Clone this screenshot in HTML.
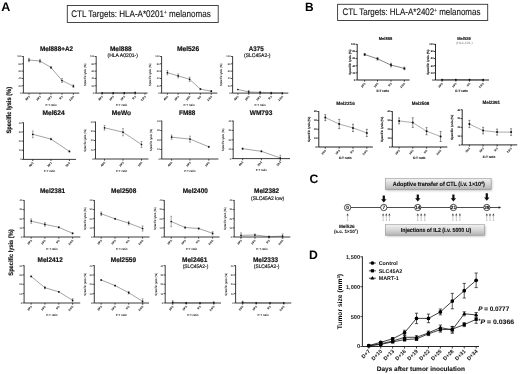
<!DOCTYPE html>
<html lang="en"><head><meta charset="utf-8"><title>Figure</title>
<style>html,body{margin:0;padding:0;background:#fff;}body{width:520px;height:374px;overflow:hidden;}svg{display:block;font-family:'Liberation Sans', sans-serif;}</style></head><body>
<svg width="520" height="374" viewBox="0 0 520 374" text-rendering="geometricPrecision">
<defs><linearGradient id="gb" x1="0" y1="0" x2="0" y2="1"><stop offset="0" stop-color="#f2f2f2"/><stop offset="0.5" stop-color="#d6d6d6"/><stop offset="1" stop-color="#b4b4b4"/></linearGradient><filter id="bl" x="-5%" y="-5%" width="110%" height="110%"><feGaussianBlur stdDeviation="0.28"/></filter><filter id="sh" x="-10%" y="-30%" width="120%" height="180%"><feGaussianBlur stdDeviation="0.8"/></filter></defs>
<rect width="520" height="374" fill="#fff"/>
<g filter="url(#bl)">
<text x="1.2" y="10.8" font-size="12.5" font-weight="bold" text-anchor="start" fill="#000">A</text>
<text x="304.9" y="10.6" font-size="11.9" font-weight="bold" text-anchor="start" fill="#000">B</text>
<text x="309.4" y="183.4" font-size="12.2" font-weight="bold" text-anchor="start" fill="#000">C</text>
<text x="309" y="259" font-size="12.2" font-weight="bold" text-anchor="start" fill="#000">D</text>
<rect x="67.3" y="5.5" width="150.9" height="17" fill="#fff" stroke="#333" stroke-width="0.9"/>
<text x="71.2" y="16.9" font-size="9.5" fill="#111" stroke="#111" stroke-width="0.12" textLength="139.6" lengthAdjust="spacingAndGlyphs">CTL Targets: HLA-A*0201<tspan font-size="5.5" dy="-3.2">+</tspan><tspan dy="3.2"> melanomas</tspan></text>
<rect x="337.6" y="4.3" width="150.1" height="16.2" fill="#fff" stroke="#333" stroke-width="0.9"/>
<text x="342.4" y="15.4" font-size="9.5" fill="#111" stroke="#111" stroke-width="0.12" textLength="138" lengthAdjust="spacingAndGlyphs">CTL Targets: HLA-A*2402<tspan font-size="5.5" dy="-3.2">+</tspan><tspan dy="3.2"> melanomas</tspan></text>
<text transform="translate(10.5 110.2) rotate(-90)" font-size="6.4" font-weight="bold" text-anchor="middle" fill="#111" stroke="#111" stroke-width="0.2" textLength="46.5" lengthAdjust="spacingAndGlyphs">Specific lysis (%)</text>
<text transform="translate(13 252.5) rotate(-90)" font-size="6.4" font-weight="bold" text-anchor="middle" fill="#111" stroke="#111" stroke-width="0.15" textLength="46.3" lengthAdjust="spacingAndGlyphs">Specific lysis (%)</text>
<g>
<path d="M23.4 56.2V93.1H79.3" fill="none" stroke="#1a1a1a" stroke-width="0.85"/>
<text x="21.5" y="94" font-size="2.6" font-weight="normal" text-anchor="end" fill="#444" stroke="#444" stroke-width="0.07">0</text>
<text x="21.5" y="86.68" font-size="2.6" font-weight="normal" text-anchor="end" fill="#444" stroke="#444" stroke-width="0.07">20</text>
<text x="21.5" y="79.36" font-size="2.6" font-weight="normal" text-anchor="end" fill="#444" stroke="#444" stroke-width="0.07">40</text>
<text x="21.5" y="72.04" font-size="2.6" font-weight="normal" text-anchor="end" fill="#444" stroke="#444" stroke-width="0.07">60</text>
<text x="21.5" y="64.72" font-size="2.6" font-weight="normal" text-anchor="end" fill="#444" stroke="#444" stroke-width="0.07">80</text>
<text x="21.5" y="57.4" font-size="2.6" font-weight="normal" text-anchor="end" fill="#444" stroke="#444" stroke-width="0.07">100</text>
<path d="M23.4 93.1h-1.6M23.4 85.78h-1.6M23.4 78.46h-1.6M23.4 71.14h-1.6M23.4 63.82h-1.6M23.4 56.5h-1.6" stroke="#1a1a1a" stroke-width="0.77"/>
<text transform="translate(29.9 96.6) rotate(-50)" font-size="2.7" font-weight="bold" text-anchor="end" fill="#111" stroke="#111" stroke-width="0.08">40:1</text>
<text transform="translate(40.9 96.6) rotate(-50)" font-size="2.7" font-weight="bold" text-anchor="end" fill="#111" stroke="#111" stroke-width="0.08">20:1</text>
<text transform="translate(51.9 96.6) rotate(-50)" font-size="2.7" font-weight="bold" text-anchor="end" fill="#111" stroke="#111" stroke-width="0.08">10:1</text>
<text transform="translate(62.9 96.6) rotate(-50)" font-size="2.7" font-weight="bold" text-anchor="end" fill="#111" stroke="#111" stroke-width="0.08">5:1</text>
<text transform="translate(74.3 96.6) rotate(-50)" font-size="2.7" font-weight="bold" text-anchor="end" fill="#111" stroke="#111" stroke-width="0.08">2.5:1</text>
<path d="M29 93.1v1.6M40 93.1v1.6M51 93.1v1.6M62 93.1v1.6M73.4 93.1v1.6" stroke="#1a1a1a" stroke-width="0.77"/>
<text x="51.05" y="105.6" font-size="3" font-weight="normal" text-anchor="middle" fill="#222" stroke="#222" stroke-width="0.07">E:T ratio</text>
<text x="56.5" y="50.6" font-size="6.7" font-weight="bold" text-anchor="middle" fill="#111" textLength="33" lengthAdjust="spacingAndGlyphs" stroke="#111" stroke-width="0.18">Mel888+A2</text>
<polyline points="29,60 40,61 51,67.5 62,80.5 73.4,86.2" fill="none" stroke="#333" stroke-width="0.45"/>
<path d="M29 58.4V61.6M28.1 58.4h1.8M28.1 61.6h1.8M40 59.4V62.6M39.1 59.4h1.8M39.1 62.6h1.8M51 66.5V68.5M50.1 66.5h1.8M50.1 68.5h1.8M62 78.5V82.5M61.1 78.5h1.8M61.1 82.5h1.8M73.4 84.9V87.5M72.5 84.9h1.8M72.5 87.5h1.8" stroke="#444" stroke-width="0.45" fill="none"/>
<circle cx="29" cy="60" r="0.85" fill="#111"/>
<circle cx="40" cy="61" r="0.85" fill="#111"/>
<circle cx="51" cy="67.5" r="0.85" fill="#111"/>
<circle cx="62" cy="80.5" r="0.85" fill="#111"/>
<circle cx="73.4" cy="86.2" r="0.85" fill="#111"/>
</g>
<g>
<path d="M96.2 56.2V93.1H147.6" fill="none" stroke="#1a1a1a" stroke-width="0.85"/>
<text x="94.3" y="94" font-size="2.6" font-weight="normal" text-anchor="end" fill="#444" stroke="#444" stroke-width="0.07">0</text>
<text x="94.3" y="86.68" font-size="2.6" font-weight="normal" text-anchor="end" fill="#444" stroke="#444" stroke-width="0.07">20</text>
<text x="94.3" y="79.36" font-size="2.6" font-weight="normal" text-anchor="end" fill="#444" stroke="#444" stroke-width="0.07">40</text>
<text x="94.3" y="72.04" font-size="2.6" font-weight="normal" text-anchor="end" fill="#444" stroke="#444" stroke-width="0.07">60</text>
<text x="94.3" y="64.72" font-size="2.6" font-weight="normal" text-anchor="end" fill="#444" stroke="#444" stroke-width="0.07">80</text>
<text x="94.3" y="57.4" font-size="2.6" font-weight="normal" text-anchor="end" fill="#444" stroke="#444" stroke-width="0.07">100</text>
<path d="M96.2 93.1h-1.6M96.2 85.78h-1.6M96.2 78.46h-1.6M96.2 71.14h-1.6M96.2 63.82h-1.6M96.2 56.5h-1.6" stroke="#1a1a1a" stroke-width="0.77"/>
<text transform="translate(103 96.6) rotate(-50)" font-size="2.7" font-weight="bold" text-anchor="end" fill="#111" stroke="#111" stroke-width="0.08">40:1</text>
<text transform="translate(114 96.6) rotate(-50)" font-size="2.7" font-weight="bold" text-anchor="end" fill="#111" stroke="#111" stroke-width="0.08">20:1</text>
<text transform="translate(125.1 96.6) rotate(-50)" font-size="2.7" font-weight="bold" text-anchor="end" fill="#111" stroke="#111" stroke-width="0.08">10:1</text>
<text transform="translate(136.1 96.6) rotate(-50)" font-size="2.7" font-weight="bold" text-anchor="end" fill="#111" stroke="#111" stroke-width="0.08">5:1</text>
<text transform="translate(145.9 96.6) rotate(-50)" font-size="2.7" font-weight="bold" text-anchor="end" fill="#111" stroke="#111" stroke-width="0.08">2.5:1</text>
<path d="M102.1 93.1v1.6M113.1 93.1v1.6M124.2 93.1v1.6M135.2 93.1v1.6M145 93.1v1.6" stroke="#1a1a1a" stroke-width="0.77"/>
<text x="121.6" y="105.6" font-size="3" font-weight="normal" text-anchor="middle" fill="#222" stroke="#222" stroke-width="0.07">E:T ratio</text>
<text transform="translate(85.8 74.8) rotate(-90)" font-size="3" font-weight="normal" text-anchor="middle" fill="#222" stroke="#222" stroke-width="0.07">Specific lysis (%)</text>
<text x="120.8" y="50.6" font-size="6.7" font-weight="bold" text-anchor="middle" fill="#111" textLength="21.8" lengthAdjust="spacingAndGlyphs" stroke="#111" stroke-width="0.18">Mel888</text>
<text x="122.7" y="57.2" font-size="5.2" font-weight="normal" text-anchor="middle" fill="#222" textLength="30.5" lengthAdjust="spacingAndGlyphs" stroke="#222" stroke-width="0.18">(HLA A0201-)</text>
<polyline points="102.1,92.9 113.1,92.9 124.2,92.9 135.2,92.6" fill="none" stroke="#333" stroke-width="0.45"/>
<path d="M135.2 92.1V93.1M134.3 92.1h1.8M134.3 93.1h1.8" stroke="#444" stroke-width="0.45" fill="none"/>
<circle cx="102.1" cy="92.9" r="0.85" fill="#111"/>
<circle cx="113.1" cy="92.9" r="0.85" fill="#111"/>
<circle cx="124.2" cy="92.9" r="0.85" fill="#111"/>
<circle cx="135.2" cy="92.6" r="0.85" fill="#111"/>
</g>
<g>
<path d="M161.6 56.2V93.1H217.2" fill="none" stroke="#1a1a1a" stroke-width="0.85"/>
<text x="159.7" y="94" font-size="2.6" font-weight="normal" text-anchor="end" fill="#444" stroke="#444" stroke-width="0.07">0</text>
<text x="159.7" y="86.68" font-size="2.6" font-weight="normal" text-anchor="end" fill="#444" stroke="#444" stroke-width="0.07">20</text>
<text x="159.7" y="79.36" font-size="2.6" font-weight="normal" text-anchor="end" fill="#444" stroke="#444" stroke-width="0.07">40</text>
<text x="159.7" y="72.04" font-size="2.6" font-weight="normal" text-anchor="end" fill="#444" stroke="#444" stroke-width="0.07">60</text>
<text x="159.7" y="64.72" font-size="2.6" font-weight="normal" text-anchor="end" fill="#444" stroke="#444" stroke-width="0.07">80</text>
<text x="159.7" y="57.4" font-size="2.6" font-weight="normal" text-anchor="end" fill="#444" stroke="#444" stroke-width="0.07">100</text>
<path d="M161.6 93.1h-1.6M161.6 85.78h-1.6M161.6 78.46h-1.6M161.6 71.14h-1.6M161.6 63.82h-1.6M161.6 56.5h-1.6" stroke="#1a1a1a" stroke-width="0.77"/>
<text transform="translate(168.3 96.6) rotate(-50)" font-size="2.7" font-weight="bold" text-anchor="end" fill="#111" stroke="#111" stroke-width="0.08">40:1</text>
<text transform="translate(179.1 96.6) rotate(-50)" font-size="2.7" font-weight="bold" text-anchor="end" fill="#111" stroke="#111" stroke-width="0.08">20:1</text>
<text transform="translate(190.5 96.6) rotate(-50)" font-size="2.7" font-weight="bold" text-anchor="end" fill="#111" stroke="#111" stroke-width="0.08">10:1</text>
<text transform="translate(201.3 96.6) rotate(-50)" font-size="2.7" font-weight="bold" text-anchor="end" fill="#111" stroke="#111" stroke-width="0.08">5:1</text>
<text transform="translate(212.2 96.6) rotate(-50)" font-size="2.7" font-weight="bold" text-anchor="end" fill="#111" stroke="#111" stroke-width="0.08">2.5:1</text>
<path d="M167.4 93.1v1.6M178.2 93.1v1.6M189.6 93.1v1.6M200.4 93.1v1.6M211.3 93.1v1.6" stroke="#1a1a1a" stroke-width="0.77"/>
<text x="189.1" y="105.6" font-size="3" font-weight="normal" text-anchor="middle" fill="#222" stroke="#222" stroke-width="0.07">E:T ratio</text>
<text transform="translate(151.4 74.8) rotate(-90)" font-size="3" font-weight="normal" text-anchor="middle" fill="#222" stroke="#222" stroke-width="0.07">Specific lysis (%)</text>
<text x="188" y="50.6" font-size="6.7" font-weight="bold" text-anchor="middle" fill="#111" textLength="22.2" lengthAdjust="spacingAndGlyphs" stroke="#111" stroke-width="0.18">Mel526</text>
<polyline points="167.4,72.7 178.2,75.9 189.6,79.3 200.4,89.1 211.3,91.2" fill="none" stroke="#333" stroke-width="0.45"/>
<path d="M167.4 70.5V74.9M166.5 70.5h1.8M166.5 74.9h1.8M178.2 73.9V77.9M177.3 73.9h1.8M177.3 77.9h1.8M189.6 77.1V81.5M188.7 77.1h1.8M188.7 81.5h1.8M200.4 88.5V89.7M199.5 88.5h1.8M199.5 89.7h1.8M211.3 90.5V91.9M210.4 90.5h1.8M210.4 91.9h1.8" stroke="#444" stroke-width="0.45" fill="none"/>
<circle cx="167.4" cy="72.7" r="0.85" fill="#111"/>
<circle cx="178.2" cy="75.9" r="0.85" fill="#111"/>
<circle cx="189.6" cy="79.3" r="0.85" fill="#111"/>
<circle cx="200.4" cy="89.1" r="0.85" fill="#111"/>
<circle cx="211.3" cy="91.2" r="0.85" fill="#111"/>
</g>
<g>
<path d="M232.6 56.2V93.1H288.3" fill="none" stroke="#1a1a1a" stroke-width="0.85"/>
<text x="230.7" y="94" font-size="2.6" font-weight="normal" text-anchor="end" fill="#444" stroke="#444" stroke-width="0.07">0</text>
<text x="230.7" y="86.68" font-size="2.6" font-weight="normal" text-anchor="end" fill="#444" stroke="#444" stroke-width="0.07">20</text>
<text x="230.7" y="79.36" font-size="2.6" font-weight="normal" text-anchor="end" fill="#444" stroke="#444" stroke-width="0.07">40</text>
<text x="230.7" y="72.04" font-size="2.6" font-weight="normal" text-anchor="end" fill="#444" stroke="#444" stroke-width="0.07">60</text>
<text x="230.7" y="64.72" font-size="2.6" font-weight="normal" text-anchor="end" fill="#444" stroke="#444" stroke-width="0.07">80</text>
<text x="230.7" y="57.4" font-size="2.6" font-weight="normal" text-anchor="end" fill="#444" stroke="#444" stroke-width="0.07">100</text>
<path d="M232.6 93.1h-1.6M232.6 85.78h-1.6M232.6 78.46h-1.6M232.6 71.14h-1.6M232.6 63.82h-1.6M232.6 56.5h-1.6" stroke="#1a1a1a" stroke-width="0.77"/>
<text transform="translate(238.8 96.6) rotate(-50)" font-size="2.7" font-weight="bold" text-anchor="end" fill="#111" stroke="#111" stroke-width="0.08">40:1</text>
<text transform="translate(249.6 96.6) rotate(-50)" font-size="2.7" font-weight="bold" text-anchor="end" fill="#111" stroke="#111" stroke-width="0.08">20:1</text>
<text transform="translate(261 96.6) rotate(-50)" font-size="2.7" font-weight="bold" text-anchor="end" fill="#111" stroke="#111" stroke-width="0.08">10:1</text>
<text transform="translate(272.1 96.6) rotate(-50)" font-size="2.7" font-weight="bold" text-anchor="end" fill="#111" stroke="#111" stroke-width="0.08">5:1</text>
<text transform="translate(283.2 96.6) rotate(-50)" font-size="2.7" font-weight="bold" text-anchor="end" fill="#111" stroke="#111" stroke-width="0.08">2.5:1</text>
<path d="M237.9 93.1v1.6M248.7 93.1v1.6M260.1 93.1v1.6M271.2 93.1v1.6M282.3 93.1v1.6" stroke="#1a1a1a" stroke-width="0.77"/>
<text x="260.15" y="105.6" font-size="3" font-weight="normal" text-anchor="middle" fill="#222" stroke="#222" stroke-width="0.07">E:T ratio</text>
<text transform="translate(222.4 74.8) rotate(-90)" font-size="3" font-weight="normal" text-anchor="middle" fill="#222" stroke="#222" stroke-width="0.07">Specific lysis (%)</text>
<text x="256.2" y="50.6" font-size="6.7" font-weight="bold" text-anchor="middle" fill="#111" textLength="14.8" lengthAdjust="spacingAndGlyphs" stroke="#111" stroke-width="0.18">A375</text>
<text x="257.3" y="56.7" font-size="5.2" font-weight="normal" text-anchor="middle" fill="#222" textLength="26.5" lengthAdjust="spacingAndGlyphs" stroke="#222" stroke-width="0.18">(SLC45A2-)</text>
<polyline points="237.9,89.5 248.7,91.9 260.1,92.4 271.2,92.9 282.3,93" fill="none" stroke="#333" stroke-width="0.45"/>
<path d="M248.7 90.4V93.4M247.8 90.4h1.8M247.8 93.4h1.8M260.1 91.4V93.4M259.2 91.4h1.8M259.2 93.4h1.8M271.2 92.3V93.5M270.3 92.3h1.8M270.3 93.5h1.8" stroke="#444" stroke-width="0.45" fill="none"/>
<circle cx="237.9" cy="89.5" r="0.85" fill="#111"/>
<circle cx="248.7" cy="91.9" r="0.85" fill="#111"/>
<circle cx="260.1" cy="92.4" r="0.85" fill="#111"/>
<circle cx="271.2" cy="92.9" r="0.85" fill="#111"/>
<circle cx="282.3" cy="93" r="0.85" fill="#111"/>
</g>
<g>
<path d="M23.5 122.4V159.4H76" fill="none" stroke="#1a1a1a" stroke-width="0.85"/>
<text x="21.6" y="160.3" font-size="2.6" font-weight="normal" text-anchor="end" fill="#444" stroke="#444" stroke-width="0.07">0</text>
<text x="21.6" y="151.12" font-size="2.6" font-weight="normal" text-anchor="end" fill="#444" stroke="#444" stroke-width="0.07">10</text>
<text x="21.6" y="141.95" font-size="2.6" font-weight="normal" text-anchor="end" fill="#444" stroke="#444" stroke-width="0.07">20</text>
<text x="21.6" y="132.78" font-size="2.6" font-weight="normal" text-anchor="end" fill="#444" stroke="#444" stroke-width="0.07">30</text>
<text x="21.6" y="123.6" font-size="2.6" font-weight="normal" text-anchor="end" fill="#444" stroke="#444" stroke-width="0.07">40</text>
<path d="M23.5 159.4h-1.6M23.5 150.22h-1.6M23.5 141.05h-1.6M23.5 131.88h-1.6M23.5 122.7h-1.6" stroke="#1a1a1a" stroke-width="0.77"/>
<text transform="translate(33.7 162.9) rotate(-50)" font-size="2.7" font-weight="bold" text-anchor="end" fill="#111" stroke="#111" stroke-width="0.08">40:1</text>
<text transform="translate(51.9 162.9) rotate(-50)" font-size="2.7" font-weight="bold" text-anchor="end" fill="#111" stroke="#111" stroke-width="0.08">20:1</text>
<text transform="translate(70.3 162.9) rotate(-50)" font-size="2.7" font-weight="bold" text-anchor="end" fill="#111" stroke="#111" stroke-width="0.08">10:1</text>
<path d="M32.8 159.4v1.6M51 159.4v1.6M69.4 159.4v1.6" stroke="#1a1a1a" stroke-width="0.77"/>
<text x="49.45" y="171.9" font-size="3" font-weight="normal" text-anchor="middle" fill="#222" stroke="#222" stroke-width="0.07">E:T ratio</text>
<text x="53.5" y="114.8" font-size="6.7" font-weight="bold" text-anchor="middle" fill="#111" textLength="22.2" lengthAdjust="spacingAndGlyphs" stroke="#111" stroke-width="0.18">Mel624</text>
<polyline points="32.8,134.3 51,139.1 69.4,151.4" fill="none" stroke="#333" stroke-width="0.45"/>
<path d="M32.8 131V137.6M31.9 131h1.8M31.9 137.6h1.8M51 138.3V139.9M50.1 138.3h1.8M50.1 139.9h1.8M69.4 150.9V151.9M68.5 150.9h1.8M68.5 151.9h1.8" stroke="#444" stroke-width="0.45" fill="none"/>
<circle cx="32.8" cy="134.3" r="0.85" fill="#111"/>
<circle cx="51" cy="139.1" r="0.85" fill="#111"/>
<circle cx="69.4" cy="151.4" r="0.85" fill="#111"/>
</g>
<g>
<path d="M95.5 121.7V159H148.4" fill="none" stroke="#1a1a1a" stroke-width="0.85"/>
<text x="93.6" y="159.9" font-size="2.6" font-weight="normal" text-anchor="end" fill="#444" stroke="#444" stroke-width="0.07">0</text>
<text x="93.6" y="150.65" font-size="2.6" font-weight="normal" text-anchor="end" fill="#444" stroke="#444" stroke-width="0.07">10</text>
<text x="93.6" y="141.4" font-size="2.6" font-weight="normal" text-anchor="end" fill="#444" stroke="#444" stroke-width="0.07">20</text>
<text x="93.6" y="132.15" font-size="2.6" font-weight="normal" text-anchor="end" fill="#444" stroke="#444" stroke-width="0.07">30</text>
<text x="93.6" y="122.9" font-size="2.6" font-weight="normal" text-anchor="end" fill="#444" stroke="#444" stroke-width="0.07">40</text>
<path d="M95.5 159h-1.6M95.5 149.75h-1.6M95.5 140.5h-1.6M95.5 131.25h-1.6M95.5 122h-1.6" stroke="#1a1a1a" stroke-width="0.77"/>
<text transform="translate(105.4 162.5) rotate(-50)" font-size="2.7" font-weight="bold" text-anchor="end" fill="#111" stroke="#111" stroke-width="0.08">40:1</text>
<text transform="translate(123.9 162.5) rotate(-50)" font-size="2.7" font-weight="bold" text-anchor="end" fill="#111" stroke="#111" stroke-width="0.08">20:1</text>
<text transform="translate(142.4 162.5) rotate(-50)" font-size="2.7" font-weight="bold" text-anchor="end" fill="#111" stroke="#111" stroke-width="0.08">10:1</text>
<path d="M104.5 159v1.6M123 159v1.6M141.5 159v1.6" stroke="#1a1a1a" stroke-width="0.77"/>
<text x="121.65" y="171.5" font-size="3" font-weight="normal" text-anchor="middle" fill="#222" stroke="#222" stroke-width="0.07">E:T ratio</text>
<text transform="translate(86.1 140.5) rotate(-90)" font-size="3" font-weight="normal" text-anchor="middle" fill="#222" stroke="#222" stroke-width="0.07">Specific lysis (%)</text>
<text x="121.4" y="114.8" font-size="6.7" font-weight="bold" text-anchor="middle" fill="#111" textLength="19.2" lengthAdjust="spacingAndGlyphs" stroke="#111" stroke-width="0.18">MeWo</text>
<polyline points="104.5,127.8 123,132.2 141.5,144.5" fill="none" stroke="#333" stroke-width="0.45"/>
<path d="M104.5 125.4V130.2M103.6 125.4h1.8M103.6 130.2h1.8M123 128.6V135.8M122.1 128.6h1.8M122.1 135.8h1.8M141.5 141.5V147.5M140.6 141.5h1.8M140.6 147.5h1.8" stroke="#444" stroke-width="0.45" fill="none"/>
<circle cx="104.5" cy="127.8" r="0.85" fill="#111"/>
<circle cx="123" cy="132.2" r="0.85" fill="#111"/>
<circle cx="141.5" cy="144.5" r="0.85" fill="#111"/>
</g>
<g>
<path d="M161.8 120.7V159H218.4" fill="none" stroke="#1a1a1a" stroke-width="0.85"/>
<text x="159.9" y="159.9" font-size="2.6" font-weight="normal" text-anchor="end" fill="#444" stroke="#444" stroke-width="0.07">0</text>
<text x="159.9" y="150.4" font-size="2.6" font-weight="normal" text-anchor="end" fill="#444" stroke="#444" stroke-width="0.07">10</text>
<text x="159.9" y="140.9" font-size="2.6" font-weight="normal" text-anchor="end" fill="#444" stroke="#444" stroke-width="0.07">20</text>
<text x="159.9" y="131.4" font-size="2.6" font-weight="normal" text-anchor="end" fill="#444" stroke="#444" stroke-width="0.07">30</text>
<text x="159.9" y="121.9" font-size="2.6" font-weight="normal" text-anchor="end" fill="#444" stroke="#444" stroke-width="0.07">40</text>
<path d="M161.8 159h-1.6M161.8 149.5h-1.6M161.8 140h-1.6M161.8 130.5h-1.6M161.8 121h-1.6" stroke="#1a1a1a" stroke-width="0.77"/>
<text transform="translate(172.5 162.5) rotate(-50)" font-size="2.7" font-weight="bold" text-anchor="end" fill="#111" stroke="#111" stroke-width="0.08">40:1</text>
<text transform="translate(190.9 162.5) rotate(-50)" font-size="2.7" font-weight="bold" text-anchor="end" fill="#111" stroke="#111" stroke-width="0.08">20:1</text>
<text transform="translate(209.7 162.5) rotate(-50)" font-size="2.7" font-weight="bold" text-anchor="end" fill="#111" stroke="#111" stroke-width="0.08">10:1</text>
<path d="M171.6 159v1.6M190 159v1.6M208.8 159v1.6" stroke="#1a1a1a" stroke-width="0.77"/>
<text x="189.8" y="171.5" font-size="3" font-weight="normal" text-anchor="middle" fill="#222" stroke="#222" stroke-width="0.07">E:T ratio</text>
<text transform="translate(152.4 140) rotate(-90)" font-size="3" font-weight="normal" text-anchor="middle" fill="#222" stroke="#222" stroke-width="0.07">Specific lysis (%)</text>
<text x="187.2" y="114.8" font-size="6.7" font-weight="bold" text-anchor="middle" fill="#111" textLength="16.3" lengthAdjust="spacingAndGlyphs" stroke="#111" stroke-width="0.18">FM88</text>
<polyline points="171.6,137.2 190,139.1 208.8,146.8" fill="none" stroke="#333" stroke-width="0.45"/>
<path d="M171.6 135V139.4M170.7 135h1.8M170.7 139.4h1.8M190 136.1V142.1M189.1 136.1h1.8M189.1 142.1h1.8M208.8 146.3V147.3M207.9 146.3h1.8M207.9 147.3h1.8" stroke="#444" stroke-width="0.45" fill="none"/>
<circle cx="171.6" cy="137.2" r="0.85" fill="#111"/>
<circle cx="190" cy="139.1" r="0.85" fill="#111"/>
<circle cx="208.8" cy="146.8" r="0.85" fill="#111"/>
</g>
<g>
<path d="M233.2 120.7V158.6H290" fill="none" stroke="#1a1a1a" stroke-width="0.85"/>
<text x="231.3" y="159.5" font-size="2.6" font-weight="normal" text-anchor="end" fill="#444" stroke="#444" stroke-width="0.07">0</text>
<text x="231.3" y="150.1" font-size="2.6" font-weight="normal" text-anchor="end" fill="#444" stroke="#444" stroke-width="0.07">10</text>
<text x="231.3" y="140.7" font-size="2.6" font-weight="normal" text-anchor="end" fill="#444" stroke="#444" stroke-width="0.07">20</text>
<text x="231.3" y="131.3" font-size="2.6" font-weight="normal" text-anchor="end" fill="#444" stroke="#444" stroke-width="0.07">30</text>
<text x="231.3" y="121.9" font-size="2.6" font-weight="normal" text-anchor="end" fill="#444" stroke="#444" stroke-width="0.07">40</text>
<path d="M233.2 158.6h-1.6M233.2 149.2h-1.6M233.2 139.8h-1.6M233.2 130.4h-1.6M233.2 121h-1.6" stroke="#1a1a1a" stroke-width="0.77"/>
<text transform="translate(243.5 162.1) rotate(-50)" font-size="2.7" font-weight="bold" text-anchor="end" fill="#111" stroke="#111" stroke-width="0.08">40:1</text>
<text transform="translate(262.3 162.1) rotate(-50)" font-size="2.7" font-weight="bold" text-anchor="end" fill="#111" stroke="#111" stroke-width="0.08">20:1</text>
<text transform="translate(281.2 162.1) rotate(-50)" font-size="2.7" font-weight="bold" text-anchor="end" fill="#111" stroke="#111" stroke-width="0.08">10:1</text>
<path d="M242.6 158.6v1.6M261.4 158.6v1.6M280.3 158.6v1.6" stroke="#1a1a1a" stroke-width="0.77"/>
<text x="261.3" y="171.1" font-size="3" font-weight="normal" text-anchor="middle" fill="#222" stroke="#222" stroke-width="0.07">E:T ratio</text>
<text transform="translate(223.8 139.8) rotate(-90)" font-size="3" font-weight="normal" text-anchor="middle" fill="#222" stroke="#222" stroke-width="0.07">Specific lysis (%)</text>
<text x="261" y="114.8" font-size="6.7" font-weight="bold" text-anchor="middle" fill="#111" textLength="22.6" lengthAdjust="spacingAndGlyphs" stroke="#111" stroke-width="0.18">WM793</text>
<polyline points="242.6,148.7 261.4,151.3 280.3,158" fill="none" stroke="#333" stroke-width="0.45"/>
<path d="M242.6 148.2V149.2M241.7 148.2h1.8M241.7 149.2h1.8M261.4 150.8V151.8M260.5 150.8h1.8M260.5 151.8h1.8M280.3 155.2V160.8M279.4 155.2h1.8M279.4 160.8h1.8" stroke="#444" stroke-width="0.45" fill="none"/>
<circle cx="242.6" cy="148.7" r="0.85" fill="#111"/>
<circle cx="261.4" cy="151.3" r="0.85" fill="#111"/>
<circle cx="280.3" cy="158" r="0.85" fill="#111"/>
</g>
<g>
<path d="M24.2 200.1V237H80.3" fill="none" stroke="#1a1a1a" stroke-width="0.85"/>
<text x="22.3" y="237.9" font-size="2.6" font-weight="normal" text-anchor="end" fill="#444" stroke="#444" stroke-width="0.07">0</text>
<text x="22.3" y="228.75" font-size="2.6" font-weight="normal" text-anchor="end" fill="#444" stroke="#444" stroke-width="0.07">10</text>
<text x="22.3" y="219.6" font-size="2.6" font-weight="normal" text-anchor="end" fill="#444" stroke="#444" stroke-width="0.07">20</text>
<text x="22.3" y="210.45" font-size="2.6" font-weight="normal" text-anchor="end" fill="#444" stroke="#444" stroke-width="0.07">30</text>
<text x="22.3" y="201.3" font-size="2.6" font-weight="normal" text-anchor="end" fill="#444" stroke="#444" stroke-width="0.07">40</text>
<path d="M24.2 237h-1.6M24.2 227.85h-1.6M24.2 218.7h-1.6M24.2 209.55h-1.6M24.2 200.4h-1.6" stroke="#1a1a1a" stroke-width="0.77"/>
<text transform="translate(32.1 240.5) rotate(-50)" font-size="2.7" font-weight="bold" text-anchor="end" fill="#111" stroke="#111" stroke-width="0.08">20:1</text>
<text transform="translate(45.8 240.5) rotate(-50)" font-size="2.7" font-weight="bold" text-anchor="end" fill="#111" stroke="#111" stroke-width="0.08">10:1</text>
<text transform="translate(59.7 240.5) rotate(-50)" font-size="2.7" font-weight="bold" text-anchor="end" fill="#111" stroke="#111" stroke-width="0.08">5:1</text>
<text transform="translate(73.5 240.5) rotate(-50)" font-size="2.7" font-weight="bold" text-anchor="end" fill="#111" stroke="#111" stroke-width="0.08">2.5:1</text>
<path d="M31.2 237v1.6M44.9 237v1.6M58.8 237v1.6M72.6 237v1.6" stroke="#1a1a1a" stroke-width="0.77"/>
<text x="51.95" y="249.5" font-size="3" font-weight="normal" text-anchor="middle" fill="#222" stroke="#222" stroke-width="0.07">E:T ratio</text>
<text x="52.5" y="193.1" font-size="6.7" font-weight="bold" text-anchor="middle" fill="#111" textLength="25.2" lengthAdjust="spacingAndGlyphs" stroke="#111" stroke-width="0.18">Mel2381</text>
<polyline points="31.2,221.1 44.9,224.4 58.8,227.3 72.6,233.3" fill="none" stroke="#333" stroke-width="0.45"/>
<path d="M31.2 218.9V223.3M30.3 218.9h1.8M30.3 223.3h1.8M44.9 222.6V226.2M44 222.6h1.8M44 226.2h1.8M58.8 226.7V227.9M57.9 226.7h1.8M57.9 227.9h1.8M72.6 232.7V233.9M71.7 232.7h1.8M71.7 233.9h1.8" stroke="#444" stroke-width="0.45" fill="none"/>
<circle cx="31.2" cy="221.1" r="0.85" fill="#111"/>
<circle cx="44.9" cy="224.4" r="0.85" fill="#111"/>
<circle cx="58.8" cy="227.3" r="0.85" fill="#111"/>
<circle cx="72.6" cy="233.3" r="0.85" fill="#111"/>
</g>
<g>
<path d="M94.4 200.1V237H149.6" fill="none" stroke="#1a1a1a" stroke-width="0.85"/>
<text x="92.5" y="237.9" font-size="2.6" font-weight="normal" text-anchor="end" fill="#444" stroke="#444" stroke-width="0.07">0</text>
<text x="92.5" y="228.75" font-size="2.6" font-weight="normal" text-anchor="end" fill="#444" stroke="#444" stroke-width="0.07">10</text>
<text x="92.5" y="219.6" font-size="2.6" font-weight="normal" text-anchor="end" fill="#444" stroke="#444" stroke-width="0.07">20</text>
<text x="92.5" y="210.45" font-size="2.6" font-weight="normal" text-anchor="end" fill="#444" stroke="#444" stroke-width="0.07">30</text>
<text x="92.5" y="201.3" font-size="2.6" font-weight="normal" text-anchor="end" fill="#444" stroke="#444" stroke-width="0.07">40</text>
<path d="M94.4 237h-1.6M94.4 227.85h-1.6M94.4 218.7h-1.6M94.4 209.55h-1.6M94.4 200.4h-1.6" stroke="#1a1a1a" stroke-width="0.77"/>
<text transform="translate(102.1 240.5) rotate(-50)" font-size="2.7" font-weight="bold" text-anchor="end" fill="#111" stroke="#111" stroke-width="0.08">20:1</text>
<text transform="translate(116 240.5) rotate(-50)" font-size="2.7" font-weight="bold" text-anchor="end" fill="#111" stroke="#111" stroke-width="0.08">10:1</text>
<text transform="translate(129.6 240.5) rotate(-50)" font-size="2.7" font-weight="bold" text-anchor="end" fill="#111" stroke="#111" stroke-width="0.08">5:1</text>
<text transform="translate(143.5 240.5) rotate(-50)" font-size="2.7" font-weight="bold" text-anchor="end" fill="#111" stroke="#111" stroke-width="0.08">2.5:1</text>
<path d="M101.2 237v1.6M115.1 237v1.6M128.7 237v1.6M142.6 237v1.6" stroke="#1a1a1a" stroke-width="0.77"/>
<text x="121.7" y="249.5" font-size="3" font-weight="normal" text-anchor="middle" fill="#222" stroke="#222" stroke-width="0.07">E:T ratio</text>
<text transform="translate(86 218.7) rotate(-90)" font-size="3" font-weight="normal" text-anchor="middle" fill="#222" stroke="#222" stroke-width="0.07">Specific lysis (%)</text>
<text x="123.7" y="193.1" font-size="6.7" font-weight="bold" text-anchor="middle" fill="#111" textLength="25.2" lengthAdjust="spacingAndGlyphs" stroke="#111" stroke-width="0.18">Mel2508</text>
<polyline points="101.2,213.8 115.1,218.8 128.7,223.1 142.6,228.5" fill="none" stroke="#333" stroke-width="0.45"/>
<path d="M101.2 212V215.6M100.3 212h1.8M100.3 215.6h1.8M115.1 218.3V219.3M114.2 218.3h1.8M114.2 219.3h1.8M128.7 221.3V224.9M127.8 221.3h1.8M127.8 224.9h1.8M142.6 225.9V231.1M141.7 225.9h1.8M141.7 231.1h1.8" stroke="#444" stroke-width="0.45" fill="none"/>
<circle cx="101.2" cy="213.8" r="0.85" fill="#111"/>
<circle cx="115.1" cy="218.8" r="0.85" fill="#111"/>
<circle cx="128.7" cy="223.1" r="0.85" fill="#111"/>
<circle cx="142.6" cy="228.5" r="0.85" fill="#111"/>
</g>
<g>
<path d="M164.3 200.1V237H219.5" fill="none" stroke="#1a1a1a" stroke-width="0.85"/>
<text x="162.4" y="237.9" font-size="2.6" font-weight="normal" text-anchor="end" fill="#444" stroke="#444" stroke-width="0.07">0</text>
<text x="162.4" y="228.75" font-size="2.6" font-weight="normal" text-anchor="end" fill="#444" stroke="#444" stroke-width="0.07">10</text>
<text x="162.4" y="219.6" font-size="2.6" font-weight="normal" text-anchor="end" fill="#444" stroke="#444" stroke-width="0.07">20</text>
<text x="162.4" y="210.45" font-size="2.6" font-weight="normal" text-anchor="end" fill="#444" stroke="#444" stroke-width="0.07">30</text>
<text x="162.4" y="201.3" font-size="2.6" font-weight="normal" text-anchor="end" fill="#444" stroke="#444" stroke-width="0.07">40</text>
<path d="M164.3 237h-1.6M164.3 227.85h-1.6M164.3 218.7h-1.6M164.3 209.55h-1.6M164.3 200.4h-1.6" stroke="#1a1a1a" stroke-width="0.77"/>
<text transform="translate(172.1 240.5) rotate(-50)" font-size="2.7" font-weight="bold" text-anchor="end" fill="#111" stroke="#111" stroke-width="0.08">20:1</text>
<text transform="translate(186 240.5) rotate(-50)" font-size="2.7" font-weight="bold" text-anchor="end" fill="#111" stroke="#111" stroke-width="0.08">10:1</text>
<text transform="translate(199.6 240.5) rotate(-50)" font-size="2.7" font-weight="bold" text-anchor="end" fill="#111" stroke="#111" stroke-width="0.08">5:1</text>
<text transform="translate(213.5 240.5) rotate(-50)" font-size="2.7" font-weight="bold" text-anchor="end" fill="#111" stroke="#111" stroke-width="0.08">2.5:1</text>
<path d="M171.2 237v1.6M185.1 237v1.6M198.7 237v1.6M212.6 237v1.6" stroke="#1a1a1a" stroke-width="0.77"/>
<text x="191.6" y="249.5" font-size="3" font-weight="normal" text-anchor="middle" fill="#222" stroke="#222" stroke-width="0.07">E:T ratio</text>
<text transform="translate(155.9 218.7) rotate(-90)" font-size="3" font-weight="normal" text-anchor="middle" fill="#222" stroke="#222" stroke-width="0.07">Specific lysis (%)</text>
<text x="195.3" y="193.1" font-size="6.7" font-weight="bold" text-anchor="middle" fill="#111" textLength="25.2" lengthAdjust="spacingAndGlyphs" stroke="#111" stroke-width="0.18">Mel2400</text>
<polyline points="171.2,221.5 185.1,227.5 198.7,228.5 212.6,233.3" fill="none" stroke="#333" stroke-width="0.45"/>
<path d="M171.2 216.3V226.7M170.3 216.3h1.8M170.3 226.7h1.8M185.1 226.7V228.3M184.2 226.7h1.8M184.2 228.3h1.8M198.7 227.7V229.3M197.8 227.7h1.8M197.8 229.3h1.8M212.6 231.7V234.9M211.7 231.7h1.8M211.7 234.9h1.8" stroke="#444" stroke-width="0.45" fill="none"/>
<circle cx="171.2" cy="221.5" r="0.85" fill="#111"/>
<circle cx="185.1" cy="227.5" r="0.85" fill="#111"/>
<circle cx="198.7" cy="228.5" r="0.85" fill="#111"/>
<circle cx="212.6" cy="233.3" r="0.85" fill="#111"/>
</g>
<g>
<path d="M234.2 200.1V237H290.3" fill="none" stroke="#1a1a1a" stroke-width="0.85"/>
<text x="232.3" y="237.9" font-size="2.6" font-weight="normal" text-anchor="end" fill="#444" stroke="#444" stroke-width="0.07">0</text>
<text x="232.3" y="228.75" font-size="2.6" font-weight="normal" text-anchor="end" fill="#444" stroke="#444" stroke-width="0.07">10</text>
<text x="232.3" y="219.6" font-size="2.6" font-weight="normal" text-anchor="end" fill="#444" stroke="#444" stroke-width="0.07">20</text>
<text x="232.3" y="210.45" font-size="2.6" font-weight="normal" text-anchor="end" fill="#444" stroke="#444" stroke-width="0.07">30</text>
<text x="232.3" y="201.3" font-size="2.6" font-weight="normal" text-anchor="end" fill="#444" stroke="#444" stroke-width="0.07">40</text>
<path d="M234.2 237h-1.6M234.2 227.85h-1.6M234.2 218.7h-1.6M234.2 209.55h-1.6M234.2 200.4h-1.6" stroke="#1a1a1a" stroke-width="0.77"/>
<text transform="translate(241.9 240.5) rotate(-50)" font-size="2.7" font-weight="bold" text-anchor="end" fill="#111" stroke="#111" stroke-width="0.08">20:1</text>
<text transform="translate(255.8 240.5) rotate(-50)" font-size="2.7" font-weight="bold" text-anchor="end" fill="#111" stroke="#111" stroke-width="0.08">10:1</text>
<text transform="translate(269.9 240.5) rotate(-50)" font-size="2.7" font-weight="bold" text-anchor="end" fill="#111" stroke="#111" stroke-width="0.08">5:1</text>
<text transform="translate(283.5 240.5) rotate(-50)" font-size="2.7" font-weight="bold" text-anchor="end" fill="#111" stroke="#111" stroke-width="0.08">2.5:1</text>
<path d="M241 237v1.6M254.9 237v1.6M269 237v1.6M282.6 237v1.6" stroke="#1a1a1a" stroke-width="0.77"/>
<text x="261.95" y="249.5" font-size="3" font-weight="normal" text-anchor="middle" fill="#222" stroke="#222" stroke-width="0.07">E:T ratio</text>
<text transform="translate(225.8 218.7) rotate(-90)" font-size="3" font-weight="normal" text-anchor="middle" fill="#222" stroke="#222" stroke-width="0.07">Specific lysis (%)</text>
<text x="266.6" y="193.1" font-size="6.7" font-weight="bold" text-anchor="middle" fill="#111" textLength="25.2" lengthAdjust="spacingAndGlyphs" stroke="#111" stroke-width="0.18">Mel2382</text>
<text x="267.6" y="199.9" font-size="5.2" font-weight="normal" text-anchor="middle" fill="#222" textLength="33" lengthAdjust="spacingAndGlyphs" stroke="#222" stroke-width="0.18">(SLC45A2 low)</text>
<polyline points="241,235.3 254.9,235 269,236.7 282.6,236.1" fill="none" stroke="#333" stroke-width="0.45"/>
<path d="M241 232.8V237.8M240.1 232.8h1.8M240.1 237.8h1.8M254.9 234V236M254 234h1.8M254 236h1.8M269 236.1V237.3M268.1 236.1h1.8M268.1 237.3h1.8M282.6 233.9V238.3M281.7 233.9h1.8M281.7 238.3h1.8" stroke="#444" stroke-width="0.45" fill="none"/>
<circle cx="241" cy="235.3" r="0.85" fill="#111"/>
<circle cx="254.9" cy="235" r="0.85" fill="#111"/>
<circle cx="269" cy="236.7" r="0.85" fill="#111"/>
<circle cx="282.6" cy="236.1" r="0.85" fill="#111"/>
</g>
<g>
<path d="M24.1 265.3V303H80.2" fill="none" stroke="#1a1a1a" stroke-width="0.85"/>
<text x="22.2" y="303.9" font-size="2.6" font-weight="normal" text-anchor="end" fill="#444" stroke="#444" stroke-width="0.07">0</text>
<text x="22.2" y="294.55" font-size="2.6" font-weight="normal" text-anchor="end" fill="#444" stroke="#444" stroke-width="0.07">10</text>
<text x="22.2" y="285.2" font-size="2.6" font-weight="normal" text-anchor="end" fill="#444" stroke="#444" stroke-width="0.07">20</text>
<text x="22.2" y="275.85" font-size="2.6" font-weight="normal" text-anchor="end" fill="#444" stroke="#444" stroke-width="0.07">30</text>
<text x="22.2" y="266.5" font-size="2.6" font-weight="normal" text-anchor="end" fill="#444" stroke="#444" stroke-width="0.07">40</text>
<path d="M24.1 303h-1.6M24.1 293.65h-1.6M24.1 284.3h-1.6M24.1 274.95h-1.6M24.1 265.6h-1.6" stroke="#1a1a1a" stroke-width="0.77"/>
<text transform="translate(32.1 306.5) rotate(-50)" font-size="2.7" font-weight="bold" text-anchor="end" fill="#111" stroke="#111" stroke-width="0.08">20:1</text>
<text transform="translate(45.8 306.5) rotate(-50)" font-size="2.7" font-weight="bold" text-anchor="end" fill="#111" stroke="#111" stroke-width="0.08">10:1</text>
<text transform="translate(59.7 306.5) rotate(-50)" font-size="2.7" font-weight="bold" text-anchor="end" fill="#111" stroke="#111" stroke-width="0.08">5:1</text>
<text transform="translate(73.5 306.5) rotate(-50)" font-size="2.7" font-weight="bold" text-anchor="end" fill="#111" stroke="#111" stroke-width="0.08">2.5:1</text>
<path d="M31.2 303v1.6M44.9 303v1.6M58.8 303v1.6M72.6 303v1.6" stroke="#1a1a1a" stroke-width="0.77"/>
<text x="51.85" y="315.5" font-size="3" font-weight="normal" text-anchor="middle" fill="#222" stroke="#222" stroke-width="0.07">E:T ratio</text>
<text x="50.2" y="262" font-size="6.7" font-weight="bold" text-anchor="middle" fill="#111" textLength="25.2" lengthAdjust="spacingAndGlyphs" stroke="#111" stroke-width="0.18">Mel2412</text>
<polyline points="31.2,276.4 44.9,287.7 58.8,291.8 72.6,300.3" fill="none" stroke="#333" stroke-width="0.45"/>
<path d="M31.2 276V276.8M30.3 276h1.8M30.3 276.8h1.8M44.9 286.7V288.7M44 286.7h1.8M44 288.7h1.8M58.8 291.4V292.2M57.9 291.4h1.8M57.9 292.2h1.8M72.6 298.7V301.9M71.7 298.7h1.8M71.7 301.9h1.8" stroke="#444" stroke-width="0.45" fill="none"/>
<circle cx="31.2" cy="276.4" r="0.85" fill="#111"/>
<circle cx="44.9" cy="287.7" r="0.85" fill="#111"/>
<circle cx="58.8" cy="291.8" r="0.85" fill="#111"/>
<circle cx="72.6" cy="300.3" r="0.85" fill="#111"/>
</g>
<g>
<path d="M94.3 265.3V303H149" fill="none" stroke="#1a1a1a" stroke-width="0.85"/>
<text x="92.4" y="303.9" font-size="2.6" font-weight="normal" text-anchor="end" fill="#444" stroke="#444" stroke-width="0.07">0</text>
<text x="92.4" y="294.55" font-size="2.6" font-weight="normal" text-anchor="end" fill="#444" stroke="#444" stroke-width="0.07">10</text>
<text x="92.4" y="285.2" font-size="2.6" font-weight="normal" text-anchor="end" fill="#444" stroke="#444" stroke-width="0.07">20</text>
<text x="92.4" y="275.85" font-size="2.6" font-weight="normal" text-anchor="end" fill="#444" stroke="#444" stroke-width="0.07">30</text>
<text x="92.4" y="266.5" font-size="2.6" font-weight="normal" text-anchor="end" fill="#444" stroke="#444" stroke-width="0.07">40</text>
<path d="M94.3 303h-1.6M94.3 293.65h-1.6M94.3 284.3h-1.6M94.3 274.95h-1.6M94.3 265.6h-1.6" stroke="#1a1a1a" stroke-width="0.77"/>
<text transform="translate(102.1 306.5) rotate(-50)" font-size="2.7" font-weight="bold" text-anchor="end" fill="#111" stroke="#111" stroke-width="0.08">20:1</text>
<text transform="translate(116 306.5) rotate(-50)" font-size="2.7" font-weight="bold" text-anchor="end" fill="#111" stroke="#111" stroke-width="0.08">10:1</text>
<text transform="translate(129.6 306.5) rotate(-50)" font-size="2.7" font-weight="bold" text-anchor="end" fill="#111" stroke="#111" stroke-width="0.08">5:1</text>
<text transform="translate(143.5 306.5) rotate(-50)" font-size="2.7" font-weight="bold" text-anchor="end" fill="#111" stroke="#111" stroke-width="0.08">2.5:1</text>
<path d="M101.2 303v1.6M115.1 303v1.6M128.7 303v1.6M142.6 303v1.6" stroke="#1a1a1a" stroke-width="0.77"/>
<text x="121.35" y="315.5" font-size="3" font-weight="normal" text-anchor="middle" fill="#222" stroke="#222" stroke-width="0.07">E:T ratio</text>
<text transform="translate(85.9 284.3) rotate(-90)" font-size="3" font-weight="normal" text-anchor="middle" fill="#222" stroke="#222" stroke-width="0.07">Specific lysis (%)</text>
<text x="123.4" y="262" font-size="6.7" font-weight="bold" text-anchor="middle" fill="#111" textLength="25.2" lengthAdjust="spacingAndGlyphs" stroke="#111" stroke-width="0.18">Mel2559</text>
<polyline points="101.2,280 115.1,285.6 128.7,292.7 142.6,301.4" fill="none" stroke="#333" stroke-width="0.45"/>
<path d="M101.2 279.5V280.5M100.3 279.5h1.8M100.3 280.5h1.8M115.1 285.1V286.1M114.2 285.1h1.8M114.2 286.1h1.8M128.7 291.5V293.9M127.8 291.5h1.8M127.8 293.9h1.8M142.6 298.8V304M141.7 298.8h1.8M141.7 304h1.8" stroke="#444" stroke-width="0.45" fill="none"/>
<circle cx="101.2" cy="280" r="0.85" fill="#111"/>
<circle cx="115.1" cy="285.6" r="0.85" fill="#111"/>
<circle cx="128.7" cy="292.7" r="0.85" fill="#111"/>
<circle cx="142.6" cy="301.4" r="0.85" fill="#111"/>
</g>
<g>
<path d="M165.2 265.3V303H221" fill="none" stroke="#1a1a1a" stroke-width="0.85"/>
<text x="163.3" y="303.9" font-size="2.6" font-weight="normal" text-anchor="end" fill="#444" stroke="#444" stroke-width="0.07">0</text>
<text x="163.3" y="294.55" font-size="2.6" font-weight="normal" text-anchor="end" fill="#444" stroke="#444" stroke-width="0.07">10</text>
<text x="163.3" y="285.2" font-size="2.6" font-weight="normal" text-anchor="end" fill="#444" stroke="#444" stroke-width="0.07">20</text>
<text x="163.3" y="275.85" font-size="2.6" font-weight="normal" text-anchor="end" fill="#444" stroke="#444" stroke-width="0.07">30</text>
<text x="163.3" y="266.5" font-size="2.6" font-weight="normal" text-anchor="end" fill="#444" stroke="#444" stroke-width="0.07">40</text>
<path d="M165.2 303h-1.6M165.2 293.65h-1.6M165.2 284.3h-1.6M165.2 274.95h-1.6M165.2 265.6h-1.6" stroke="#1a1a1a" stroke-width="0.77"/>
<text transform="translate(173.6 306.5) rotate(-50)" font-size="2.7" font-weight="bold" text-anchor="end" fill="#111" stroke="#111" stroke-width="0.08">20:1</text>
<text transform="translate(187.1 306.5) rotate(-50)" font-size="2.7" font-weight="bold" text-anchor="end" fill="#111" stroke="#111" stroke-width="0.08">10:1</text>
<text transform="translate(200.9 306.5) rotate(-50)" font-size="2.7" font-weight="bold" text-anchor="end" fill="#111" stroke="#111" stroke-width="0.08">5:1</text>
<text transform="translate(214.7 306.5) rotate(-50)" font-size="2.7" font-weight="bold" text-anchor="end" fill="#111" stroke="#111" stroke-width="0.08">2.5:1</text>
<path d="M172.7 303v1.6M186.2 303v1.6M200 303v1.6M213.8 303v1.6" stroke="#1a1a1a" stroke-width="0.77"/>
<text x="192.8" y="315.5" font-size="3" font-weight="normal" text-anchor="middle" fill="#222" stroke="#222" stroke-width="0.07">E:T ratio</text>
<text transform="translate(156.8 284.3) rotate(-90)" font-size="3" font-weight="normal" text-anchor="middle" fill="#222" stroke="#222" stroke-width="0.07">Specific lysis (%)</text>
<text x="194.7" y="262" font-size="6.7" font-weight="bold" text-anchor="middle" fill="#111" textLength="25.2" lengthAdjust="spacingAndGlyphs" stroke="#111" stroke-width="0.18">Mel2461</text>
<text x="195.5" y="268" font-size="5.2" font-weight="normal" text-anchor="middle" fill="#222" textLength="25.5" lengthAdjust="spacingAndGlyphs" stroke="#222" stroke-width="0.18">(SLC45A2-)</text>
<polyline points="172.7,302.3 186.2,302.9 200,302.9 213.8,302.7" fill="none" stroke="#333" stroke-width="0.45"/>
<path d="M172.7 300.7V303.9M171.8 300.7h1.8M171.8 303.9h1.8M186.2 302.4V303.4M185.3 302.4h1.8M185.3 303.4h1.8M213.8 301.8V303.6M212.9 301.8h1.8M212.9 303.6h1.8" stroke="#444" stroke-width="0.45" fill="none"/>
<circle cx="172.7" cy="302.3" r="0.85" fill="#111"/>
<circle cx="186.2" cy="302.9" r="0.85" fill="#111"/>
<circle cx="200" cy="302.9" r="0.85" fill="#111"/>
<circle cx="213.8" cy="302.7" r="0.85" fill="#111"/>
</g>
<g>
<path d="M235.6 265.3V303H291.2" fill="none" stroke="#1a1a1a" stroke-width="0.85"/>
<text x="233.7" y="303.9" font-size="2.6" font-weight="normal" text-anchor="end" fill="#444" stroke="#444" stroke-width="0.07">0</text>
<text x="233.7" y="294.55" font-size="2.6" font-weight="normal" text-anchor="end" fill="#444" stroke="#444" stroke-width="0.07">10</text>
<text x="233.7" y="285.2" font-size="2.6" font-weight="normal" text-anchor="end" fill="#444" stroke="#444" stroke-width="0.07">20</text>
<text x="233.7" y="275.85" font-size="2.6" font-weight="normal" text-anchor="end" fill="#444" stroke="#444" stroke-width="0.07">30</text>
<text x="233.7" y="266.5" font-size="2.6" font-weight="normal" text-anchor="end" fill="#444" stroke="#444" stroke-width="0.07">40</text>
<path d="M235.6 303h-1.6M235.6 293.65h-1.6M235.6 284.3h-1.6M235.6 274.95h-1.6M235.6 265.6h-1.6" stroke="#1a1a1a" stroke-width="0.77"/>
<text transform="translate(243.5 306.5) rotate(-50)" font-size="2.7" font-weight="bold" text-anchor="end" fill="#111" stroke="#111" stroke-width="0.08">20:1</text>
<text transform="translate(257.1 306.5) rotate(-50)" font-size="2.7" font-weight="bold" text-anchor="end" fill="#111" stroke="#111" stroke-width="0.08">10:1</text>
<text transform="translate(270.9 306.5) rotate(-50)" font-size="2.7" font-weight="bold" text-anchor="end" fill="#111" stroke="#111" stroke-width="0.08">5:1</text>
<text transform="translate(284.7 306.5) rotate(-50)" font-size="2.7" font-weight="bold" text-anchor="end" fill="#111" stroke="#111" stroke-width="0.08">2.5:1</text>
<path d="M242.6 303v1.6M256.2 303v1.6M270 303v1.6M283.8 303v1.6" stroke="#1a1a1a" stroke-width="0.77"/>
<text x="263.1" y="315.5" font-size="3" font-weight="normal" text-anchor="middle" fill="#222" stroke="#222" stroke-width="0.07">E:T ratio</text>
<text transform="translate(227.2 284.3) rotate(-90)" font-size="3" font-weight="normal" text-anchor="middle" fill="#222" stroke="#222" stroke-width="0.07">Specific lysis (%)</text>
<text x="265.5" y="262" font-size="6.7" font-weight="bold" text-anchor="middle" fill="#111" textLength="25.2" lengthAdjust="spacingAndGlyphs" stroke="#111" stroke-width="0.18">Mel2333</text>
<text x="266.6" y="268" font-size="5.2" font-weight="normal" text-anchor="middle" fill="#222" textLength="25.5" lengthAdjust="spacingAndGlyphs" stroke="#222" stroke-width="0.18">(SLC45A2-)</text>
<polyline points="242.6,302.4 256.2,302.9 270,302.9 283.8,302.9" fill="none" stroke="#333" stroke-width="0.45"/>
<path d="M242.6 301.2V303.6M241.7 301.2h1.8M241.7 303.6h1.8" stroke="#444" stroke-width="0.45" fill="none"/>
<circle cx="242.6" cy="302.4" r="0.85" fill="#111"/>
<circle cx="256.2" cy="302.9" r="0.85" fill="#111"/>
<circle cx="270" cy="302.9" r="0.85" fill="#111"/>
<circle cx="283.8" cy="302.9" r="0.85" fill="#111"/>
</g>
<g>
<path d="M357.2 44V80H409.6" fill="none" stroke="#1a1a1a" stroke-width="0.95"/>
<text x="355.3" y="80.9" font-size="2.6" font-weight="bold" text-anchor="end" fill="#222" stroke="#222" stroke-width="0.1">0</text>
<text x="355.3" y="73.76" font-size="2.6" font-weight="bold" text-anchor="end" fill="#222" stroke="#222" stroke-width="0.1">20</text>
<text x="355.3" y="66.62" font-size="2.6" font-weight="bold" text-anchor="end" fill="#222" stroke="#222" stroke-width="0.1">40</text>
<text x="355.3" y="59.48" font-size="2.6" font-weight="bold" text-anchor="end" fill="#222" stroke="#222" stroke-width="0.1">60</text>
<text x="355.3" y="52.34" font-size="2.6" font-weight="bold" text-anchor="end" fill="#222" stroke="#222" stroke-width="0.1">80</text>
<text x="355.3" y="45.2" font-size="2.6" font-weight="bold" text-anchor="end" fill="#222" stroke="#222" stroke-width="0.1">100</text>
<path d="M357.2 80h-1.6M357.2 72.86h-1.6M357.2 65.72h-1.6M357.2 58.58h-1.6M357.2 51.44h-1.6M357.2 44.3h-1.6" stroke="#1a1a1a" stroke-width="0.85"/>
<text transform="translate(365.6 83.5) rotate(-50)" font-size="2.7" font-weight="bold" text-anchor="end" fill="#111" stroke="#111" stroke-width="0.08">20:1</text>
<text transform="translate(378.4 83.5) rotate(-50)" font-size="2.7" font-weight="bold" text-anchor="end" fill="#111" stroke="#111" stroke-width="0.08">10:1</text>
<text transform="translate(391.9 83.5) rotate(-50)" font-size="2.7" font-weight="bold" text-anchor="end" fill="#111" stroke="#111" stroke-width="0.08">5:1</text>
<text transform="translate(405.3 83.5) rotate(-50)" font-size="2.7" font-weight="bold" text-anchor="end" fill="#111" stroke="#111" stroke-width="0.08">2.5:1</text>
<path d="M364.7 80v1.6M377.5 80v1.6M391 80v1.6M404.4 80v1.6" stroke="#1a1a1a" stroke-width="0.85"/>
<text x="382.8" y="91.7" font-size="3.1" font-weight="bold" text-anchor="middle" fill="#222" stroke="#222" stroke-width="0.1">E:T ratio</text>
<text transform="translate(351 62.15) rotate(-90)" font-size="3.1" font-weight="bold" text-anchor="middle" fill="#222" stroke="#222" stroke-width="0.1">Specific lysis (%)</text>
<text x="385.5" y="39.5" font-size="4.3" font-weight="bold" text-anchor="middle" fill="#111" textLength="13.5" lengthAdjust="spacingAndGlyphs" stroke="#111" stroke-width="0.12">Mel888</text>
<polyline points="364.7,54.5 377.5,58.8 391,65.1 404.4,68.4" fill="none" stroke="#333" stroke-width="0.6"/>
<path d="M364.7 53.5V55.5M363.7 53.5h2M363.7 55.5h2M377.5 57.6V60M376.5 57.6h2M376.5 60h2M391 63.3V66.9M390 63.3h2M390 66.9h2M404.4 67.2V69.6M403.4 67.2h2M403.4 69.6h2" stroke="#222" stroke-width="0.5" fill="none"/>
<circle cx="364.7" cy="54.5" r="1" fill="#111"/>
<circle cx="377.5" cy="58.8" r="1" fill="#111"/>
<circle cx="391" cy="65.1" r="1" fill="#111"/>
<circle cx="404.4" cy="68.4" r="1" fill="#111"/>
</g>
<g>
<path d="M435.5 44V80H489" fill="none" stroke="#1a1a1a" stroke-width="0.95"/>
<text x="433.6" y="80.9" font-size="2.6" font-weight="bold" text-anchor="end" fill="#222" stroke="#222" stroke-width="0.1">0</text>
<text x="433.6" y="73.76" font-size="2.6" font-weight="bold" text-anchor="end" fill="#222" stroke="#222" stroke-width="0.1">20</text>
<text x="433.6" y="66.62" font-size="2.6" font-weight="bold" text-anchor="end" fill="#222" stroke="#222" stroke-width="0.1">40</text>
<text x="433.6" y="59.48" font-size="2.6" font-weight="bold" text-anchor="end" fill="#222" stroke="#222" stroke-width="0.1">60</text>
<text x="433.6" y="52.34" font-size="2.6" font-weight="bold" text-anchor="end" fill="#222" stroke="#222" stroke-width="0.1">80</text>
<text x="433.6" y="45.2" font-size="2.6" font-weight="bold" text-anchor="end" fill="#222" stroke="#222" stroke-width="0.1">100</text>
<path d="M435.5 80h-1.6M435.5 72.86h-1.6M435.5 65.72h-1.6M435.5 58.58h-1.6M435.5 51.44h-1.6M435.5 44.3h-1.6" stroke="#1a1a1a" stroke-width="0.85"/>
<text transform="translate(443 83.5) rotate(-50)" font-size="2.7" font-weight="bold" text-anchor="end" fill="#111" stroke="#111" stroke-width="0.08">20:1</text>
<text transform="translate(456.8 83.5) rotate(-50)" font-size="2.7" font-weight="bold" text-anchor="end" fill="#111" stroke="#111" stroke-width="0.08">10:1</text>
<text transform="translate(470.4 83.5) rotate(-50)" font-size="2.7" font-weight="bold" text-anchor="end" fill="#111" stroke="#111" stroke-width="0.08">5:1</text>
<text transform="translate(484 83.5) rotate(-50)" font-size="2.7" font-weight="bold" text-anchor="end" fill="#111" stroke="#111" stroke-width="0.08">2.5:1</text>
<path d="M442.1 80v1.6M455.9 80v1.6M469.5 80v1.6M483.1 80v1.6" stroke="#1a1a1a" stroke-width="0.85"/>
<text x="461.65" y="91.7" font-size="3.1" font-weight="bold" text-anchor="middle" fill="#222" stroke="#222" stroke-width="0.1">E:T ratio</text>
<text transform="translate(429.3 62.15) rotate(-90)" font-size="3.1" font-weight="bold" text-anchor="middle" fill="#222" stroke="#222" stroke-width="0.1">Specific lysis (%)</text>
<text x="463.9" y="39.5" font-size="4.3" font-weight="bold" text-anchor="middle" fill="#111" textLength="13.5" lengthAdjust="spacingAndGlyphs" stroke="#111" stroke-width="0.12">Mel526</text>
<text x="464.4" y="44.4" font-size="3.3" font-weight="normal" text-anchor="middle" fill="#777" textLength="16.5" lengthAdjust="spacingAndGlyphs">(HLA A24-)</text>
<polyline points="442.1,79.8 455.9,79.7 469.5,79.8 483.1,79.8" fill="none" stroke="#333" stroke-width="0.6"/>
<circle cx="442.1" cy="79.8" r="1" fill="#111"/>
<circle cx="455.9" cy="79.7" r="1" fill="#111"/>
<circle cx="469.5" cy="79.8" r="1" fill="#111"/>
<circle cx="483.1" cy="79.8" r="1" fill="#111"/>
</g>
<g>
<path d="M318.8 111.2V147H372.9" fill="none" stroke="#1a1a1a" stroke-width="0.95"/>
<text x="316.9" y="147.9" font-size="2.6" font-weight="bold" text-anchor="end" fill="#222" stroke="#222" stroke-width="0.1">0</text>
<text x="316.9" y="139.03" font-size="2.6" font-weight="bold" text-anchor="end" fill="#222" stroke="#222" stroke-width="0.1">10</text>
<text x="316.9" y="130.15" font-size="2.6" font-weight="bold" text-anchor="end" fill="#222" stroke="#222" stroke-width="0.1">20</text>
<text x="316.9" y="121.28" font-size="2.6" font-weight="bold" text-anchor="end" fill="#222" stroke="#222" stroke-width="0.1">30</text>
<text x="316.9" y="112.4" font-size="2.6" font-weight="bold" text-anchor="end" fill="#222" stroke="#222" stroke-width="0.1">40</text>
<path d="M318.8 147h-1.6M318.8 138.12h-1.6M318.8 129.25h-1.6M318.8 120.38h-1.6M318.8 111.5h-1.6" stroke="#1a1a1a" stroke-width="0.85"/>
<text transform="translate(326.2 150.5) rotate(-50)" font-size="2.7" font-weight="bold" text-anchor="end" fill="#111" stroke="#111" stroke-width="0.08">20:1</text>
<text transform="translate(340.1 150.5) rotate(-50)" font-size="2.7" font-weight="bold" text-anchor="end" fill="#111" stroke="#111" stroke-width="0.08">10:1</text>
<text transform="translate(353.9 150.5) rotate(-50)" font-size="2.7" font-weight="bold" text-anchor="end" fill="#111" stroke="#111" stroke-width="0.08">5:1</text>
<text transform="translate(367.7 150.5) rotate(-50)" font-size="2.7" font-weight="bold" text-anchor="end" fill="#111" stroke="#111" stroke-width="0.08">2.5:1</text>
<path d="M325.3 147v1.6M339.2 147v1.6M353 147v1.6M366.8 147v1.6" stroke="#1a1a1a" stroke-width="0.85"/>
<text x="345.25" y="159.2" font-size="3.1" font-weight="bold" text-anchor="middle" fill="#222" stroke="#222" stroke-width="0.1">E:T ratio</text>
<text transform="translate(309.7 129.25) rotate(-90)" font-size="3.1" font-weight="bold" text-anchor="middle" fill="#222" stroke="#222" stroke-width="0.1">Specific lysis (%)</text>
<text x="345.6" y="104.7" font-size="4.6" font-weight="bold" text-anchor="middle" fill="#111" textLength="18.5" lengthAdjust="spacingAndGlyphs" stroke="#111" stroke-width="0.12">Mel2216</text>
<polyline points="325.3,117.6 339.2,124 353,127.9 366.8,132.9" fill="none" stroke="#666" stroke-width="0.55"/>
<path d="M325.3 114.6V120.6M324.3 114.6h2M324.3 120.6h2M339.2 119.4V128.6M338.2 119.4h2M338.2 128.6h2M353 124.3V131.5M352 124.3h2M352 131.5h2M366.8 129.3V136.5M365.8 129.3h2M365.8 136.5h2" stroke="#222" stroke-width="0.5" fill="none"/>
<circle cx="325.3" cy="117.6" r="1" fill="#111"/>
<circle cx="339.2" cy="124" r="1" fill="#111"/>
<circle cx="353" cy="127.9" r="1" fill="#111"/>
<circle cx="366.8" cy="132.9" r="1" fill="#111"/>
</g>
<g>
<path d="M392.3 111.2V147H447.3" fill="none" stroke="#1a1a1a" stroke-width="0.95"/>
<text x="390.4" y="147.9" font-size="2.6" font-weight="bold" text-anchor="end" fill="#222" stroke="#222" stroke-width="0.1">0</text>
<text x="390.4" y="139.03" font-size="2.6" font-weight="bold" text-anchor="end" fill="#222" stroke="#222" stroke-width="0.1">10</text>
<text x="390.4" y="130.15" font-size="2.6" font-weight="bold" text-anchor="end" fill="#222" stroke="#222" stroke-width="0.1">20</text>
<text x="390.4" y="121.28" font-size="2.6" font-weight="bold" text-anchor="end" fill="#222" stroke="#222" stroke-width="0.1">30</text>
<text x="390.4" y="112.4" font-size="2.6" font-weight="bold" text-anchor="end" fill="#222" stroke="#222" stroke-width="0.1">40</text>
<path d="M392.3 147h-1.6M392.3 138.12h-1.6M392.3 129.25h-1.6M392.3 120.38h-1.6M392.3 111.5h-1.6" stroke="#1a1a1a" stroke-width="0.85"/>
<text transform="translate(400 150.5) rotate(-50)" font-size="2.7" font-weight="bold" text-anchor="end" fill="#111" stroke="#111" stroke-width="0.08">20:1</text>
<text transform="translate(413.7 150.5) rotate(-50)" font-size="2.7" font-weight="bold" text-anchor="end" fill="#111" stroke="#111" stroke-width="0.08">10:1</text>
<text transform="translate(427.5 150.5) rotate(-50)" font-size="2.7" font-weight="bold" text-anchor="end" fill="#111" stroke="#111" stroke-width="0.08">5:1</text>
<text transform="translate(441.5 150.5) rotate(-50)" font-size="2.7" font-weight="bold" text-anchor="end" fill="#111" stroke="#111" stroke-width="0.08">2.5:1</text>
<path d="M399.1 147v1.6M412.8 147v1.6M426.6 147v1.6M440.6 147v1.6" stroke="#1a1a1a" stroke-width="0.85"/>
<text x="419.2" y="159.2" font-size="3.1" font-weight="bold" text-anchor="middle" fill="#222" stroke="#222" stroke-width="0.1">E:T ratio</text>
<text transform="translate(382.9 129.25) rotate(-90)" font-size="3.1" font-weight="bold" text-anchor="middle" fill="#222" stroke="#222" stroke-width="0.1">Specific lysis (%)</text>
<text x="420.5" y="104.7" font-size="4.6" font-weight="bold" text-anchor="middle" fill="#111" textLength="17.5" lengthAdjust="spacingAndGlyphs" stroke="#111" stroke-width="0.12">Mel2508</text>
<polyline points="399.1,120.9 412.8,122.6 426.6,131.2 440.6,136.5" fill="none" stroke="#666" stroke-width="0.55"/>
<path d="M399.1 117.9V123.9M398.1 117.9h2M398.1 123.9h2M412.8 117.8V127.4M411.8 117.8h2M411.8 127.4h2M426.6 127.6V134.8M425.6 127.6h2M425.6 134.8h2M440.6 131.5V141.5M439.6 131.5h2M439.6 141.5h2" stroke="#222" stroke-width="0.5" fill="none"/>
<circle cx="399.1" cy="120.9" r="1" fill="#111"/>
<circle cx="412.8" cy="122.6" r="1" fill="#111"/>
<circle cx="426.6" cy="131.2" r="1" fill="#111"/>
<circle cx="440.6" cy="136.5" r="1" fill="#111"/>
</g>
<g>
<path d="M462.2 109.5V144.9H517.2" fill="none" stroke="#1a1a1a" stroke-width="0.95"/>
<text x="460.3" y="145.8" font-size="2.6" font-weight="bold" text-anchor="end" fill="#222" stroke="#222" stroke-width="0.1">0</text>
<text x="460.3" y="137.03" font-size="2.6" font-weight="bold" text-anchor="end" fill="#222" stroke="#222" stroke-width="0.1">10</text>
<text x="460.3" y="128.25" font-size="2.6" font-weight="bold" text-anchor="end" fill="#222" stroke="#222" stroke-width="0.1">20</text>
<text x="460.3" y="119.48" font-size="2.6" font-weight="bold" text-anchor="end" fill="#222" stroke="#222" stroke-width="0.1">30</text>
<text x="460.3" y="110.7" font-size="2.6" font-weight="bold" text-anchor="end" fill="#222" stroke="#222" stroke-width="0.1">40</text>
<path d="M462.2 144.9h-1.6M462.2 136.12h-1.6M462.2 127.35h-1.6M462.2 118.58h-1.6M462.2 109.8h-1.6" stroke="#1a1a1a" stroke-width="0.85"/>
<text transform="translate(470.3 148.4) rotate(-50)" font-size="2.7" font-weight="bold" text-anchor="end" fill="#111" stroke="#111" stroke-width="0.08">20:1</text>
<text transform="translate(484 148.4) rotate(-50)" font-size="2.7" font-weight="bold" text-anchor="end" fill="#111" stroke="#111" stroke-width="0.08">10:1</text>
<text transform="translate(498 148.4) rotate(-50)" font-size="2.7" font-weight="bold" text-anchor="end" fill="#111" stroke="#111" stroke-width="0.08">5:1</text>
<text transform="translate(512 148.4) rotate(-50)" font-size="2.7" font-weight="bold" text-anchor="end" fill="#111" stroke="#111" stroke-width="0.08">2.5:1</text>
<path d="M469.4 144.9v1.6M483.1 144.9v1.6M497.1 144.9v1.6M511.1 144.9v1.6" stroke="#1a1a1a" stroke-width="0.85"/>
<text x="489.1" y="158" font-size="3.1" font-weight="bold" text-anchor="middle" fill="#222" stroke="#222" stroke-width="0.1">E:T ratio</text>
<text transform="translate(453.3 127.35) rotate(-90)" font-size="3.1" font-weight="bold" text-anchor="middle" fill="#222" stroke="#222" stroke-width="0.1">Specific lysis (%)</text>
<text x="491.3" y="104.2" font-size="4.6" font-weight="bold" text-anchor="middle" fill="#111" textLength="17.5" lengthAdjust="spacingAndGlyphs" stroke="#111" stroke-width="0.12">Mel2391</text>
<polyline points="469.4,124 483.1,130.6 497.1,132.1 511.1,132.1" fill="none" stroke="#666" stroke-width="0.55"/>
<path d="M469.4 120.4V127.6M468.4 120.4h2M468.4 127.6h2M483.1 127.3V133.9M482.1 127.3h2M482.1 133.9h2M497.1 129.1V135.1M496.1 129.1h2M496.1 135.1h2M511.1 128.8V135.4M510.1 128.8h2M510.1 135.4h2" stroke="#222" stroke-width="0.5" fill="none"/>
<circle cx="469.4" cy="124" r="1" fill="#111"/>
<circle cx="483.1" cy="130.6" r="1" fill="#111"/>
<circle cx="497.1" cy="132.1" r="1" fill="#111"/>
<circle cx="511.1" cy="132.1" r="1" fill="#111"/>
</g>
<rect x="386.3" y="179.6" width="105.8" height="11" fill="#888" opacity="0.55" filter="url(#sh)"/>
<rect x="385.3" y="178.5" width="105.8" height="11" fill="url(#gb)" stroke="#8a8a8a" stroke-width="0.5"/>
<text x="438.8" y="186.3" font-size="6" font-weight="bold" text-anchor="middle" fill="#111" stroke="#111" stroke-width="0.12" textLength="92" lengthAdjust="spacingAndGlyphs">Adoptive transfer of CTL (i.v. 1×10<tspan font-size="3.6" dy="-2">6</tspan><tspan dy="2">)</tspan></text>
<rect x="386.3" y="225.7" width="99.2" height="10.6" fill="#888" opacity="0.55" filter="url(#sh)"/>
<rect x="385.3" y="224.6" width="99.2" height="10.6" fill="url(#gb)" stroke="#8a8a8a" stroke-width="0.5"/>
<text x="436" y="232.3" font-size="5.9" font-weight="bold" text-anchor="middle" fill="#111" stroke="#111" stroke-width="0.12" textLength="70.5" lengthAdjust="spacingAndGlyphs">Injections of IL2 (i.v. 5000 U)</text>
<path d="M347.6 207.5H499" stroke="#222" stroke-width="0.8"/>
<path d="M501.2 207.5l-2.6 -1.2v2.4z" fill="#222"/>
<circle cx="347.6" cy="207.5" r="3.15" fill="#fff" stroke="#222" stroke-width="0.8"/>
<text x="347.6" y="209.2" font-size="4.7" font-weight="bold" text-anchor="middle" fill="#111" stroke="#111" stroke-width="0.1">0</text>
<circle cx="383.8" cy="207.5" r="3.15" fill="#fff" stroke="#222" stroke-width="0.8"/>
<text x="383.8" y="209.2" font-size="4.7" font-weight="bold" text-anchor="middle" fill="#111" stroke="#111" stroke-width="0.1">7</text>
<circle cx="417.8" cy="207.5" r="3.15" fill="#fff" stroke="#222" stroke-width="0.8"/>
<text x="417.8" y="209.2" font-size="4.7" font-weight="bold" text-anchor="middle" fill="#111" stroke="#111" stroke-width="0.1">14</text>
<circle cx="453.4" cy="207.5" r="3.15" fill="#fff" stroke="#222" stroke-width="0.8"/>
<text x="453.4" y="209.2" font-size="4.7" font-weight="bold" text-anchor="middle" fill="#111" stroke="#111" stroke-width="0.1">21</text>
<circle cx="486.8" cy="207.5" r="3.15" fill="#fff" stroke="#222" stroke-width="0.8"/>
<text x="486.8" y="209.2" font-size="4.7" font-weight="bold" text-anchor="middle" fill="#111" stroke="#111" stroke-width="0.1">28</text>
<path d="M382.7 195.6h2.2v3.6h1.6l-2.7 3.2l-2.7 -3.2h1.6z" fill="#111"/>
<path d="M416.7 194.6h2.2v3.7h1.6l-2.7 3.2l-2.7 -3.2h1.6z" fill="#111"/>
<path d="M452.3 194.6h2.2v3.7h1.6l-2.7 3.2l-2.7 -3.2h1.6z" fill="#111"/>
<path d="M485.7 193.2h2.2v4.4h1.6l-2.7 3.2l-2.7 -3.2h1.6z" fill="#111"/>
<path d="M347.6 221V215" stroke="#555" stroke-width="0.5" stroke-dasharray="0.9 0.5"/>
<path d="M347.6 213.3l-1.1 2.1h2.2z" fill="#444"/>
<path d="M383.1 221V215" stroke="#555" stroke-width="0.5" stroke-dasharray="0.9 0.5"/>
<path d="M383.1 213.3l-1.1 2.1h2.2z" fill="#444"/>
<path d="M386.3 221V215" stroke="#555" stroke-width="0.5" stroke-dasharray="0.9 0.5"/>
<path d="M386.3 213.3l-1.1 2.1h2.2z" fill="#444"/>
<path d="M389.4 221V215" stroke="#555" stroke-width="0.5" stroke-dasharray="0.9 0.5"/>
<path d="M389.4 213.3l-1.1 2.1h2.2z" fill="#444"/>
<path d="M417.8 221V215" stroke="#555" stroke-width="0.5" stroke-dasharray="0.9 0.5"/>
<path d="M417.8 213.3l-1.1 2.1h2.2z" fill="#444"/>
<path d="M421.2 221V215" stroke="#555" stroke-width="0.5" stroke-dasharray="0.9 0.5"/>
<path d="M421.2 213.3l-1.1 2.1h2.2z" fill="#444"/>
<path d="M424.8 221V215" stroke="#555" stroke-width="0.5" stroke-dasharray="0.9 0.5"/>
<path d="M424.8 213.3l-1.1 2.1h2.2z" fill="#444"/>
<path d="M452.9 221V215" stroke="#555" stroke-width="0.5" stroke-dasharray="0.9 0.5"/>
<path d="M452.9 213.3l-1.1 2.1h2.2z" fill="#444"/>
<path d="M456.3 221V215" stroke="#555" stroke-width="0.5" stroke-dasharray="0.9 0.5"/>
<path d="M456.3 213.3l-1.1 2.1h2.2z" fill="#444"/>
<path d="M459.9 221V215" stroke="#555" stroke-width="0.5" stroke-dasharray="0.9 0.5"/>
<path d="M459.9 213.3l-1.1 2.1h2.2z" fill="#444"/>
<path d="M486.8 221V215" stroke="#555" stroke-width="0.5" stroke-dasharray="0.9 0.5"/>
<path d="M486.8 213.3l-1.1 2.1h2.2z" fill="#444"/>
<path d="M490 221V215" stroke="#555" stroke-width="0.5" stroke-dasharray="0.9 0.5"/>
<path d="M490 213.3l-1.1 2.1h2.2z" fill="#444"/>
<path d="M493.4 221V215" stroke="#555" stroke-width="0.5" stroke-dasharray="0.9 0.5"/>
<path d="M493.4 213.3l-1.1 2.1h2.2z" fill="#444"/>
<text x="346.8" y="227.6" font-size="4.7" font-weight="bold" text-anchor="middle" fill="#222" stroke="#222" stroke-width="0.12">Mel526</text>
<text x="346" y="233" font-size="4.6" font-weight="bold" text-anchor="middle" fill="#222" stroke="#222" stroke-width="0.1">(s.c. 1×10<tspan font-size="3" dy="-1.6">7</tspan><tspan dy="1.6">)</tspan></text>
<path d="M362.4 256.4V346.5H479" fill="none" stroke="#111" stroke-width="0.9"/>
<text x="360" y="348.45" font-size="5.6" font-weight="bold" text-anchor="end" fill="#111">0</text>
<text x="360" y="318.55" font-size="5.6" font-weight="bold" text-anchor="end" fill="#111">500</text>
<text x="360" y="288.65" font-size="5.6" font-weight="bold" text-anchor="end" fill="#111">1,000</text>
<text x="360" y="258.75" font-size="5.6" font-weight="bold" text-anchor="end" fill="#111">1,500</text>
<text transform="translate(370.6 351.7) rotate(-45)" font-size="5.3" font-weight="bold" text-anchor="end" fill="#111">D+7</text>
<text transform="translate(382.53 351.7) rotate(-45)" font-size="5.3" font-weight="bold" text-anchor="end" fill="#111">D+10</text>
<text transform="translate(394.46 351.7) rotate(-45)" font-size="5.3" font-weight="bold" text-anchor="end" fill="#111">D+13</text>
<text transform="translate(406.39 351.7) rotate(-45)" font-size="5.3" font-weight="bold" text-anchor="end" fill="#111">D+16</text>
<text transform="translate(418.32 351.7) rotate(-45)" font-size="5.3" font-weight="bold" text-anchor="end" fill="#111">D+19</text>
<text transform="translate(430.25 351.7) rotate(-45)" font-size="5.3" font-weight="bold" text-anchor="end" fill="#111">D+22</text>
<text transform="translate(442.18 351.7) rotate(-45)" font-size="5.3" font-weight="bold" text-anchor="end" fill="#111">D+25</text>
<text transform="translate(454.11 351.7) rotate(-45)" font-size="5.3" font-weight="bold" text-anchor="end" fill="#111">D+28</text>
<text transform="translate(466.04 351.7) rotate(-45)" font-size="5.3" font-weight="bold" text-anchor="end" fill="#111">D+31</text>
<text transform="translate(477.97 351.7) rotate(-45)" font-size="5.3" font-weight="bold" text-anchor="end" fill="#111">D+34</text>
<path d="M362.4 346.5h-2M362.4 316.6h-2M362.4 286.7h-2M362.4 256.8h-2M368.8 346.5v2M380.73 346.5v2M392.66 346.5v2M404.59 346.5v2M416.52 346.5v2M428.45 346.5v2M440.38 346.5v2M452.31 346.5v2M464.24 346.5v2M476.17 346.5v2" stroke="#111" stroke-width="0.8"/>
<text transform="translate(342.3 301.6) rotate(-90)" font-size="6.7" font-weight="bold" text-anchor="middle" fill="#111">Tumor size (mm<tspan font-size="4.2" dy="-2.3">3</tspan><tspan dy="2.3">)</tspan></text>
<text x="420.8" y="371.2" font-size="6.5" font-weight="bold" text-anchor="middle" fill="#111" stroke="#111" stroke-width="0.1">Days after tumor inoculation</text>
<polyline points="368.8,345.6 380.73,342.3 392.66,338.8 404.59,332.7 416.52,318.4 428.45,318.4 440.38,311.9 452.31,301.1 464.24,290.7 476.17,280.3" fill="none" stroke="#111" stroke-width="0.8"/>
<path d="M380.73 341.5V343.1M379.13 341.5h3.2M379.13 343.1h3.2M392.66 337.6V340M391.06 337.6h3.2M391.06 340h3.2M404.59 330.3V335.1M402.99 330.3h3.2M402.99 335.1h3.2M416.52 313.2V323.6M414.92 313.2h3.2M414.92 323.6h3.2M428.45 314.1V322.7M426.85 314.1h3.2M426.85 322.7h3.2M440.38 309V314.8M438.78 309h3.2M438.78 314.8h3.2M452.31 293.4V308.8M450.71 293.4h3.2M450.71 308.8h3.2M464.24 283.4V298M462.64 283.4h3.2M462.64 298h3.2M476.17 273V287.6M474.57 273h3.2M474.57 287.6h3.2" stroke="#111" stroke-width="0.7" fill="none"/>
<circle cx="368.8" cy="345.6" r="1.85" fill="#000"/>
<circle cx="380.73" cy="342.3" r="1.85" fill="#000"/>
<circle cx="392.66" cy="338.8" r="1.85" fill="#000"/>
<circle cx="404.59" cy="332.7" r="1.85" fill="#000"/>
<circle cx="416.52" cy="318.4" r="1.85" fill="#000"/>
<circle cx="428.45" cy="318.4" r="1.85" fill="#000"/>
<circle cx="440.38" cy="311.9" r="1.85" fill="#000"/>
<circle cx="452.31" cy="301.1" r="1.85" fill="#000"/>
<circle cx="464.24" cy="290.7" r="1.85" fill="#000"/>
<circle cx="476.17" cy="280.3" r="1.85" fill="#000"/>
<polyline points="368.8,345.8 380.73,344.4 392.66,341.9 404.59,339.6 416.52,338.9 428.45,333.8 440.38,329.7 452.31,329.2 464.24,324.6 476.17,319.3" fill="none" stroke="#111" stroke-width="0.8"/>
<path d="M380.73 343.8V345M379.13 343.8h3.2M379.13 345h3.2M392.66 341.1V342.7M391.06 341.1h3.2M391.06 342.7h3.2M404.59 338.2V341M402.99 338.2h3.2M402.99 341h3.2M416.52 337.3V340.5M414.92 337.3h3.2M414.92 340.5h3.2M428.45 332V335.6M426.85 332h3.2M426.85 335.6h3.2M440.38 327.3V332.1M438.78 327.3h3.2M438.78 332.1h3.2M452.31 326.4V332M450.71 326.4h3.2M450.71 332h3.2M464.24 322.6V326.6M462.64 322.6h3.2M462.64 326.6h3.2M476.17 315.3V323.3M474.57 315.3h3.2M474.57 323.3h3.2" stroke="#111" stroke-width="0.7" fill="none"/>
<rect x="367.2" y="344.2" width="3.2" height="3.2" fill="#000"/>
<rect x="379.13" y="342.8" width="3.2" height="3.2" fill="#000"/>
<rect x="391.06" y="340.3" width="3.2" height="3.2" fill="#000"/>
<rect x="402.99" y="338" width="3.2" height="3.2" fill="#000"/>
<rect x="414.92" y="337.3" width="3.2" height="3.2" fill="#000"/>
<rect x="426.85" y="332.2" width="3.2" height="3.2" fill="#000"/>
<rect x="438.78" y="328.1" width="3.2" height="3.2" fill="#000"/>
<rect x="450.71" y="327.6" width="3.2" height="3.2" fill="#000"/>
<rect x="462.64" y="323" width="3.2" height="3.2" fill="#000"/>
<rect x="474.57" y="317.7" width="3.2" height="3.2" fill="#000"/>
<polyline points="368.8,345.8 380.73,343.8 392.66,341 404.59,337.3 416.52,337.3 428.45,332.9 440.38,327.6 452.31,329.9 464.24,313.8 476.17,314.9" fill="none" stroke="#111" stroke-width="0.8"/>
<path d="M380.73 343.2V344.4M379.13 343.2h3.2M379.13 344.4h3.2M392.66 340.2V341.8M391.06 340.2h3.2M391.06 341.8h3.2M404.59 335.7V338.9M402.99 335.7h3.2M402.99 338.9h3.2M416.52 335.7V338.9M414.92 335.7h3.2M414.92 338.9h3.2M428.45 331.1V334.7M426.85 331.1h3.2M426.85 334.7h3.2M440.38 325V330.2M438.78 325h3.2M438.78 330.2h3.2M452.31 326.5V333.3M450.71 326.5h3.2M450.71 333.3h3.2M464.24 311.8V315.8M462.64 311.8h3.2M462.64 315.8h3.2M476.17 312.5V317.3M474.57 312.5h3.2M474.57 317.3h3.2" stroke="#111" stroke-width="0.7" fill="none"/>
<path d="M368.8 343.7l2 3.4h-4z" fill="#000"/>
<path d="M380.73 341.7l2 3.4h-4z" fill="#000"/>
<path d="M392.66 338.9l2 3.4h-4z" fill="#000"/>
<path d="M404.59 335.2l2 3.4h-4z" fill="#000"/>
<path d="M416.52 335.2l2 3.4h-4z" fill="#000"/>
<path d="M428.45 330.8l2 3.4h-4z" fill="#000"/>
<path d="M440.38 325.5l2 3.4h-4z" fill="#000"/>
<path d="M452.31 327.8l2 3.4h-4z" fill="#000"/>
<path d="M464.24 311.7l2 3.4h-4z" fill="#000"/>
<path d="M476.17 312.8l2 3.4h-4z" fill="#000"/>
<path d="M368.9 263h7" stroke="#111" stroke-width="0.8"/>
<circle cx="372.4" cy="263" r="1.85" fill="#000"/>
<text x="378.7" y="264.9" font-size="5.4" font-weight="bold" text-anchor="start" fill="#111">Control</text>
<path d="M368.9 270.8h7" stroke="#111" stroke-width="0.8"/>
<rect x="370.8" y="269.2" width="3.2" height="3.2" fill="#000"/>
<text x="378.7" y="272.7" font-size="5.4" font-weight="bold" text-anchor="start" fill="#111">SLC45A2</text>
<path d="M368.9 278.2h7" stroke="#111" stroke-width="0.8"/>
<path d="M372.4 276.1l2 3.4h-4z" fill="#000"/>
<text x="378.7" y="280.1" font-size="5.4" font-weight="bold" text-anchor="start" fill="#111">MART-1</text>
<text x="478.2" y="310.8" font-size="6.5" font-weight="bold" fill="#111" stroke="#111" stroke-width="0.1" textLength="31" lengthAdjust="spacingAndGlyphs"><tspan font-style="italic">P</tspan> = 0.0777</text>
<text x="478.6" y="323.5" font-size="6.5" font-weight="bold" fill="#111" stroke="#111" stroke-width="0.1" textLength="35.5" lengthAdjust="spacingAndGlyphs"><tspan font-size="4.5" dy="-1.5">*</tspan><tspan font-style="italic" dy="1.5">P</tspan> = 0.0366</text>
</g>
</svg></body></html>
